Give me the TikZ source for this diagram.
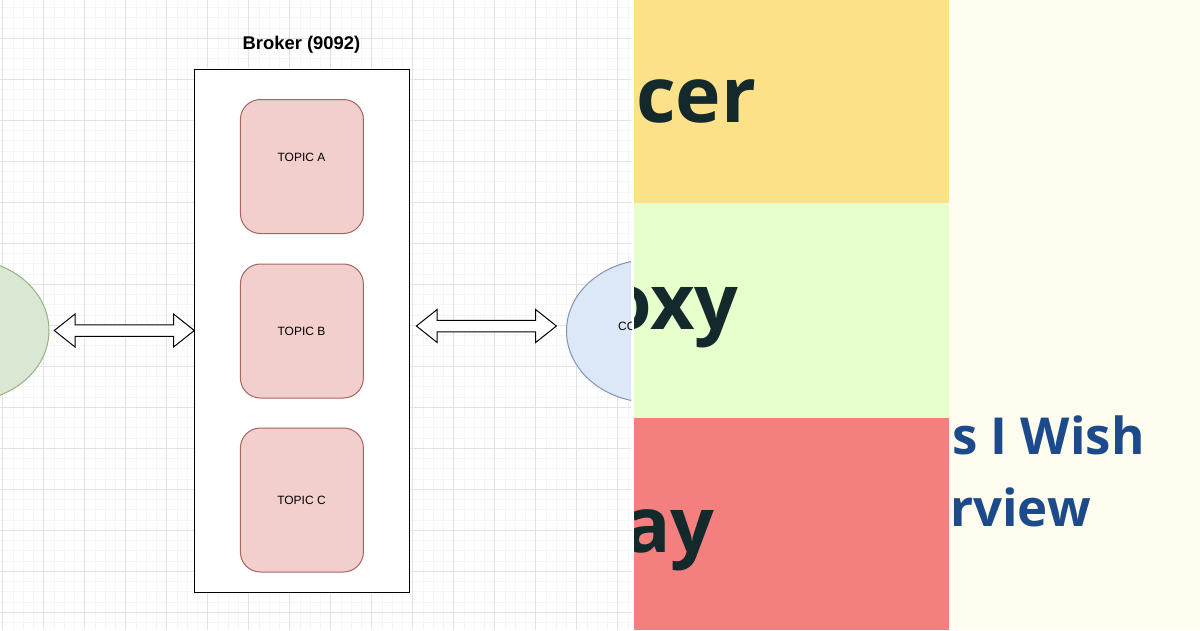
\documentclass[tikz,border=0pt]{standalone}
\usepackage{fontspec}
\setmainfont{Liberation Sans}
\newfontfamily\bannerfont{Open Sans}
\usetikzlibrary{shapes.geometric,shapes.arrows}
\definecolor{topicfill}{HTML}{F2CFCD}
\definecolor{topicline}{HTML}{A9635F}
\definecolor{producerfill}{HTML}{D9E7D3}
\definecolor{producerline}{HTML}{93B384}
\definecolor{consumerfill}{HTML}{DCE7F8}
\definecolor{consumerline}{HTML}{7F94B5}
\definecolor{bandyellow}{HTML}{FCE188}
\definecolor{bandgreen}{HTML}{E6FFCC}
\definecolor{bandred}{HTML}{F47F7F}
\definecolor{bandcream}{HTML}{FFFDEF}
\definecolor{bannerdark}{HTML}{13292B}
\definecolor{bannerblue}{HTML}{1C4A8A}
\tikzset{
  topicbox/.style={draw=topicline,fill=topicfill,line width=1pt,rounded corners=20pt,minimum width=123pt,inner sep=0pt},
  topiclabel/.style={inner sep=0pt,font=\fontsize{12}{14}\selectfont},
  blockarrow/.style={double arrow,draw=black,fill=white,line width=1pt,minimum height=140pt,
    double arrow head extend=10.75pt,double arrow tip angle=77,inner xsep=0pt,inner ysep=5.25pt},
  bannerword/.style={anchor=base west,inner sep=0pt,text=bannerdark,
    font=\bannerfont\bfseries\fontsize{77}{84}\selectfont},
  bluewords/.style={anchor=base west,inner sep=0pt,text=bannerblue,
    font=\bannerfont\bfseries\fontsize{51}{60}\selectfont}
}
\begin{document}
\begin{tikzpicture}[x=1pt,y=-1pt]
    \useasboundingbox (0,0) rectangle (1200,630);
    \fill[white] (0,0) rectangle (1200,630);

    %%%% Grid %%%%%%%%%%%%%%%%%%%%%%%%%%%%%%%%%%%%%%%%%%%%%%%%%%%%%%%%%%%
    \begin{scope}
      \clip (0,0) rectangle (631,630);
      \foreach \i in {0,...,62} {
        \draw[black!4,line width=.8pt] (2.7+10.25*\i,0) -- (2.7+10.25*\i,630);
        \draw[black!4,line width=.8pt] (0,7.55+10.25*\i) -- (631,7.55+10.25*\i);
      }
      \foreach \i in {0,...,15} {
        \draw[black!11,line width=.8pt] (2.7+41*\i,0) -- (2.7+41*\i,630);
        \draw[black!11,line width=.8pt] (0,38.3+41*\i) -- (631,38.3+41*\i);
      }

      \node[ellipse,draw=producerline,fill=producerfill,line width=1pt,minimum width=170pt,minimum height=143pt,inner sep=0pt]
        (producer) at (-36,330.5) {};
      \node[ellipse,draw=consumerline,fill=consumerfill,line width=1pt,minimum width=170pt,minimum height=143pt,inner sep=0pt]
        (consumer) at (651.5,331) {};
      \node[anchor=base west,topiclabel] (consumerlabel) at (618,330) {CO};
    \end{scope}

    %%%% Broker %%%%%%%%%%%%%%%%%%%%%%%%%%%%%%%%%%%%%%%%%%%%%%%%%%%%%%%%%%
    \node[draw=black,fill=white,line width=1pt,minimum width=215.5pt,minimum height=523pt,inner sep=0pt]
      (broker) at (301.9,330.5) {};
    \node[font=\bfseries\fontsize{18.4}{20}\selectfont,inner sep=0pt] (brokertitle) at (301.5,45) {Broker (9092)};

    \node[topicbox,minimum height=134pt] (topica) at (301.9,166.5) {};
    \node[topicbox,minimum height=134pt] (topicb) at (301.9,331) {};
    \node[topicbox,minimum height=144pt] (topicc) at (301.9,500) {};
    \node[topiclabel] (labela) at (301.5,157.2) {TOPIC A};
    \node[topiclabel] (labelb) at (301.5,331.2) {TOPIC B};
    \node[topiclabel] (labelc) at (301.5,500.2) {TOPIC C};

    \node[blockarrow] (leftarrow) at (124.3,330.5) {};
    \node[blockarrow] (rightarrow) at (486.4,326) {};

    %%%% Banner %%%%%%%%%%%%%%%%%%%%%%%%%%%%%%%%%%%%%%%%%%%%%%%%%%%%%%%%%%
    \fill[bandyellow] (634,0) rectangle (949,203);
    \fill[bandgreen] (634,203) rectangle (949,418);
    \fill[bandred] (634,418) rectangle (949,630);
    \fill[bandcream] (949,0) rectangle (1200,630);

    \begin{scope}
      \clip (634,0) rectangle (1200,630);
      \node[bannerword] (producerword) at (636,122) {cer};
      \node[bannerword] (proxyword) at (604,329) {oxy};
      \node[bannerword] (gatewayword) at (624,552) {ay};
      \node[bluewords] (wishline) at (952,454) {s I Wish};
      \node[bluewords] (interviewline) at (950,526) {rview};
    \end{scope}
\end{tikzpicture}
\end{document}
